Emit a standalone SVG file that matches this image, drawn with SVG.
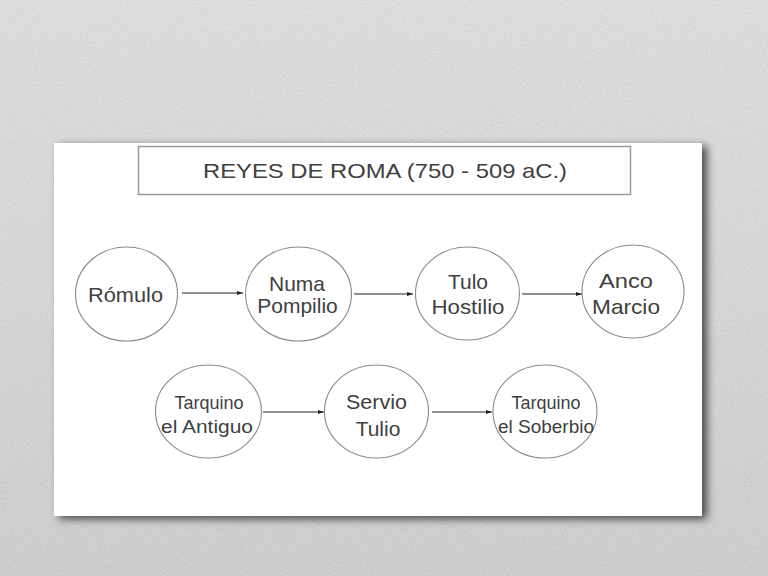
<svg xmlns="http://www.w3.org/2000/svg" width="768" height="576" viewBox="0 0 768 576">
  <style>
    .node ellipse { fill: #ffffff; stroke: #8a8a8a; stroke-width: 1.1; }
    .label { font-family: "Liberation Sans", Arial, sans-serif; fill: #404040; text-anchor: middle; }
    .big { font-size: 21px; }
    .small { font-size: 18px; }
    .conn line { stroke: #222222; stroke-width: 1.2; marker-end: url(#arrow); }
  </style>
  <defs>
    <linearGradient id="bg" x1="0" y1="0" x2="0" y2="1">
      <stop offset="0" stop-color="#e2e2e2"/>
      <stop offset="0.5" stop-color="#dadada"/>
      <stop offset="1" stop-color="#d0d0d0"/>
    </linearGradient>
    <filter id="noise" x="0" y="0" width="100%" height="100%">
      <feTurbulence type="fractalNoise" baseFrequency="0.7" numOctaves="3" seed="7" result="n"/>
      <feColorMatrix in="n" type="matrix" values="1 0 0 0 0  1 0 0 0 0  1 0 0 0 0  0 0 0 0 1"/>
    </filter>
    <filter id="shadow" x="-10%" y="-10%" width="125%" height="125%">
      <feDropShadow dx="5" dy="3" stdDeviation="4" flood-color="#000" flood-opacity="0.65"/>
    </filter>
    <marker id="arrow" viewBox="0 0 10 10" refX="10" refY="5" markerWidth="6" markerHeight="6" orient="auto" markerUnits="userSpaceOnUse">
      <path d="M0,1.5 L10,5 L0,8.5 z" fill="#222222"/>
    </marker>
  </defs>

  <rect x="0" y="0" width="768" height="576" fill="url(#bg)"/>
  <rect x="0" y="0" width="768" height="576" filter="url(#noise)" opacity="0.14"/>

  <rect id="card" x="54" y="143" width="648" height="373" fill="#ffffff" filter="url(#shadow)"/>

  <g id="title">
    <rect x="138.5" y="146.5" width="492" height="48" fill="#ffffff" stroke="#9a9a9a" stroke-width="1.5"/>
    <text class="label" x="385" y="178" font-size="21" textLength="364" lengthAdjust="spacingAndGlyphs">REYES DE ROMA (750 - 509 aC.)</text>
  </g>

  <g id="connectors" class="conn">
    <line x1="182" y1="293" x2="243" y2="293"/>
    <line x1="354" y1="294" x2="413" y2="294"/>
    <line x1="522" y1="294" x2="582" y2="294"/>
    <line x1="263" y1="412" x2="324" y2="412"/>
    <line x1="432" y1="412" x2="492" y2="412"/>
  </g>

  <g id="romulo" class="node">
    <ellipse cx="126.5" cy="294" rx="51" ry="47"/>
    <text class="label big" x="125.5" y="302" textLength="75" lengthAdjust="spacingAndGlyphs">Rómulo</text>
  </g>
  <g id="numa" class="node">
    <ellipse cx="298.5" cy="294" rx="53" ry="47"/>
    <text class="label big" x="297" y="291">Numa</text>
    <text class="label big" x="297.5" y="313">Pompilio</text>
  </g>
  <g id="tulo" class="node">
    <ellipse cx="467.5" cy="293.5" rx="52" ry="46.5"/>
    <text class="label big" x="468" y="289">Tulo</text>
    <text class="label big" x="468" y="314" textLength="73" lengthAdjust="spacingAndGlyphs">Hostilio</text>
  </g>
  <g id="anco" class="node">
    <ellipse cx="633" cy="291.5" rx="51" ry="46.5"/>
    <text class="label big" x="626" y="288" textLength="54" lengthAdjust="spacingAndGlyphs">Anco</text>
    <text class="label big" x="626" y="314" textLength="68" lengthAdjust="spacingAndGlyphs">Marcio</text>
  </g>

  <g id="tarquino-antiguo" class="node">
    <ellipse cx="208.5" cy="411.5" rx="53" ry="46.5"/>
    <text class="label small" x="209" y="409">Tarquino</text>
    <text class="label small" x="207" y="433" textLength="92" lengthAdjust="spacingAndGlyphs">el Antiguo</text>
  </g>
  <g id="servio" class="node">
    <ellipse cx="376.5" cy="411.5" rx="52" ry="46.5"/>
    <text class="label big" x="376.5" y="409" textLength="61" lengthAdjust="spacingAndGlyphs">Servio</text>
    <text class="label big" x="378" y="436">Tulio</text>
  </g>
  <g id="tarquino-soberbio" class="node">
    <ellipse cx="545" cy="411.5" rx="52" ry="46.5"/>
    <text class="label small" x="546" y="409">Tarquino</text>
    <text class="label small" x="546" y="433" textLength="96" lengthAdjust="spacingAndGlyphs">el Soberbio</text>
  </g>
</svg>
